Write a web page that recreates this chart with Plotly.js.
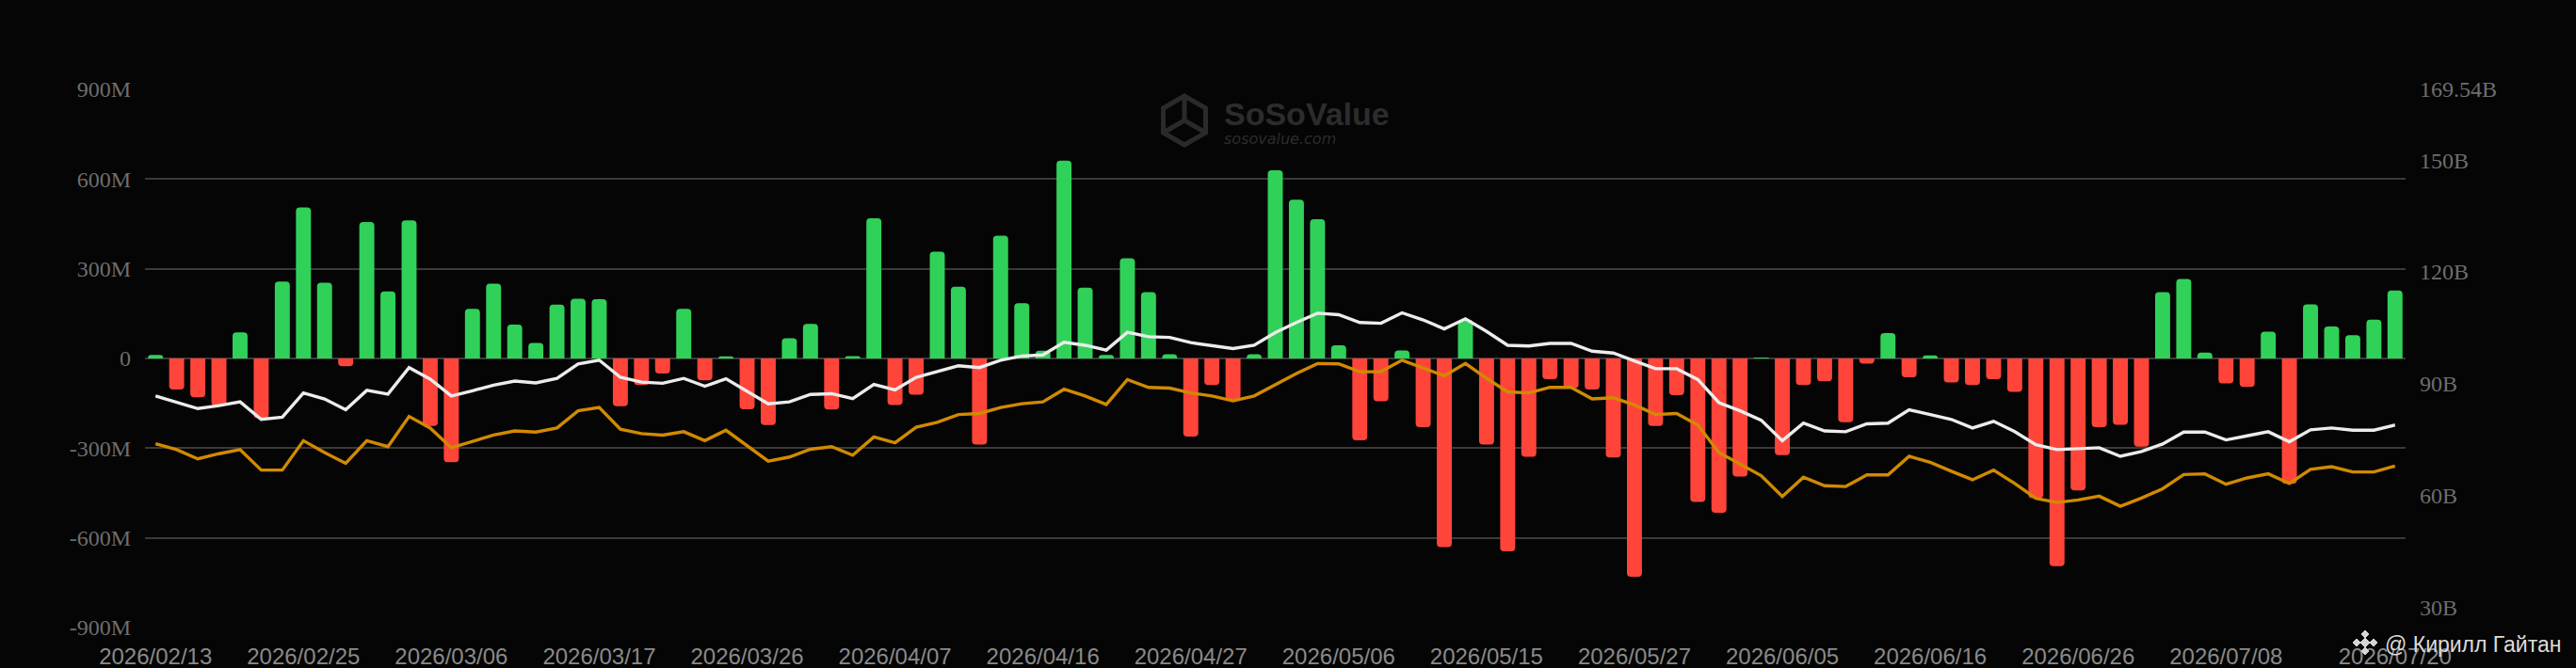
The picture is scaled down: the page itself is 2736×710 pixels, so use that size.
<!DOCTYPE html>
<html>
<head>
<meta charset="utf-8">
<script src="https://cdn.plot.ly/plotly-3.0.1.min.js"></script>
<style>
html,body{margin:0;padding:0;background:#050505;}
#chart{width:2736px;height:710px;}
</style>
</head>
<body>
<div id="chart"></div>
<script>
// Trading dates (categories)
const dates = [
"2026/02/13","2026/02/17","2026/02/18","2026/02/19","2026/02/20","2026/02/23","2026/02/24","2026/02/25","2026/02/26","2026/02/27",
"2026/03/02","2026/03/03","2026/03/04","2026/03/05","2026/03/06","2026/03/09","2026/03/10","2026/03/11","2026/03/12","2026/03/13",
"2026/03/16","2026/03/17","2026/03/18","2026/03/19","2026/03/20","2026/03/23","2026/03/24","2026/03/25","2026/03/26","2026/03/27",
"2026/03/30","2026/03/31","2026/04/01","2026/04/02","2026/04/06","2026/04/07","2026/04/08","2026/04/09","2026/04/10","2026/04/13",
"2026/04/14","2026/04/15","2026/04/16","2026/04/17","2026/04/20","2026/04/21","2026/04/22","2026/04/23","2026/04/24","2026/04/27",
"2026/04/28","2026/04/29","2026/04/30","2026/05/01","2026/05/04","2026/05/05","2026/05/06","2026/05/07","2026/05/08","2026/05/11",
"2026/05/12","2026/05/13","2026/05/14","2026/05/15","2026/05/18","2026/05/19","2026/05/20","2026/05/21","2026/05/22","2026/05/26",
"2026/05/27","2026/05/28","2026/05/29","2026/06/01","2026/06/02","2026/06/03","2026/06/04","2026/06/05","2026/06/08","2026/06/09",
"2026/06/10","2026/06/11","2026/06/12","2026/06/15","2026/06/16","2026/06/17","2026/06/18","2026/06/22","2026/06/23","2026/06/24",
"2026/06/25","2026/06/26","2026/06/29","2026/06/30","2026/07/01","2026/07/02","2026/07/06","2026/07/07","2026/07/08","2026/07/09",
"2026/07/10","2026/07/13","2026/07/14","2026/07/15","2026/07/16","2026/07/17","2026/07/20"
];

// Daily net flow (USD millions)
const netFlow = [
12,-104,-130,-158,87,-200,257,505,253,-26,
456,224,462,-226,-347,166,250,113,52,180,
200,198,-160,-89,-50,166,-73,7,-170,-223,
68,116,-171,8,469,-156,-121,357,240,-288,
411,185,26,662,237,12,335,222,14,-261,
-89,-136,14,629,531,466,44,-274,-143,27,
-230,-631,130,-288,-645,-329,-69,-99,-104,-331,
-730,-226,-123,-480,-516,-395,3,-323,-89,-76,
-213,-17,85,-63,10,-80,-89,-69,-112,-467,
-695,-441,-230,-222,-295,222,266,20,-83,-95,
90,-419,181,107,78,130,227
];

// White line (USD billions, right axis)
const whiteLine = [
86.7,85.1,83.3,84.1,85.1,80.4,81.0,87.5,85.9,83.0,
88.2,87.2,94.3,91.2,86.7,88.1,89.6,90.7,90.2,91.4,
95.3,96.3,91.7,90.4,90.1,91.4,89.3,91.3,88.0,84.6,
85.1,87.1,87.3,86.0,89.8,88.3,91.7,93.2,94.8,94.3,
96.3,97.4,97.7,101.1,100.3,99.0,103.8,102.6,102.4,101.0,
100.3,99.4,100.3,103.7,106.4,108.9,108.5,106.4,106.2,109.0,
107.1,104.7,107.4,104.0,100.3,100.1,100.8,100.8,98.7,98.2,
96.1,94.0,94.0,91.1,84.9,82.7,80.2,74.7,79.4,77.3,
77.1,79.2,79.4,83.0,81.7,80.4,78.1,79.9,77.1,73.6,
72.3,72.6,72.8,70.5,71.8,73.8,77.0,77.0,74.9,76.0,
77.1,74.4,77.6,78.1,77.5,77.5,78.9
];

// Orange line (USD billions, right axis)
const orangeLine = [
73.9,72.3,69.8,71.2,72.3,66.8,66.8,74.7,71.5,68.6,
74.7,73.1,81.2,78.1,72.8,74.4,76.2,77.3,77.0,78.1,
82.7,83.6,77.8,76.6,76.2,77.1,74.7,77.5,73.3,69.2,
70.3,72.4,73.1,70.8,75.7,74.1,78.3,79.6,81.7,82.0,
83.6,84.6,85.1,88.5,86.7,84.4,91.1,89.0,88.8,87.5,
86.7,85.4,86.7,89.8,92.7,95.4,95.3,93.2,93.2,96.3,
94.2,92.1,95.4,91.4,87.8,87.5,89.0,89.0,85.9,86.2,
84.3,81.7,82.0,78.9,71.5,68.4,65.3,59.7,64.9,62.6,
62.4,65.5,65.5,70.5,68.9,66.5,64.2,66.8,63.2,59.2,
58.1,58.8,59.8,57.1,59.3,61.8,65.6,65.8,63.0,64.7,
65.8,63.2,67.0,67.7,66.3,66.3,67.9
];

// Axis ticks
const xTickDates = ["2026/02/13","2026/02/25","2026/03/06","2026/03/17","2026/03/26","2026/04/07","2026/04/16",
"2026/04/27","2026/05/06","2026/05/15","2026/05/27","2026/06/05","2026/06/16","2026/06/26","2026/07/08","2026/07/20"];
const leftTickVals = [-900,-600,-300,0,300,600,900];
const leftTickText = ["-900M","-600M","-300M","0","300M","600M","900M"];
const rightAxisMin = 24.55, rightAxisMax = 168.96;
const rightTickVals = [30,60,90,120,150,168.95];
const rightTickText = ["30B","60B","90B","120B","150B","169.54B"];

const GREEN = "#30D158", RED = "#FF453A";

const traces = [
  {
    type: "bar", x: dates, y: netFlow, yaxis: "y",
    marker: {color: netFlow.map(v => v >= 0 ? GREEN : RED), cornerradius: 4, line: {width: 0}},
    hoverinfo: "x+y", showlegend: false
  },
  {
    type: "scatter", mode: "lines", x: dates, y: whiteLine, yaxis: "y2",
    line: {color: "#ECECEC", width: 3.4}, showlegend: false
  },
  {
    type: "scatter", mode: "lines", x: dates, y: orangeLine, yaxis: "y2",
    line: {color: "#D18A00", width: 3.4}, showlegend: false
  }
];

const hex = "M 0 -26 L 22.5 -13 L 22.5 13 L 0 26 L -22.5 13 L -22.5 -13 Z M 0 0 L 0 26 M 0 0 L -22.5 -13 M 0 0 L 22.5 -13";
const binance = "M 0 -5 L 5 0 L 0 5 L -5 0 Z M 0 -13 L 4 -9 L 0 -5 L -4 -9 Z M 0 5 L 4 9 L 0 13 L -4 9 Z M -9 -4 L -5 0 L -9 4 L -13 0 Z M 9 -4 L 13 0 L 9 4 L 5 0 Z";

const layout = {
  width: 2736, height: 710,
  paper_bgcolor: "#050505", plot_bgcolor: "#050505",
  margin: {l: 154, r: 181, t: 95, b: 43, pad: 0},
  bargap: 0.29,
  showlegend: false,
  xaxis: {
    type: "category", range: [-0.5, dates.length - 0.5],
    tickmode: "array", tickvals: xTickDates, ticktext: xTickDates,
    showgrid: false, zeroline: false, showline: false, ticks: "",
    ticklabelstandoff: 14,
    tickfont: {family: "Liberation Sans, Arial, sans-serif", size: 24, color: "#8a8a8a"},
    fixedrange: true
  },
  yaxis: {
    range: [-900, 900],
    tickmode: "array", tickvals: leftTickVals, ticktext: leftTickText,
    showgrid: true, gridcolor: "#3a3a3a", gridwidth: 2,
    zeroline: false, showline: false, ticks: "",
    ticklabelstandoff: 14,
    tickfont: {family: "Liberation Serif, Times New Roman, serif", size: 24, color: "#6e6e6e"},
    fixedrange: true
  },
  yaxis2: {
    overlaying: "y", side: "right",
    range: [rightAxisMin, rightAxisMax],
    tickmode: "array", tickvals: rightTickVals, ticktext: rightTickText,
    showgrid: false, zeroline: false, showline: false, ticks: "",
    ticklabelstandoff: 14,
    tickfont: {family: "Liberation Serif, Times New Roman, serif", size: 24, color: "#6e6e6e"},
    fixedrange: true
  },
  shapes: [
    {type: "path", xref: "paper", yref: "paper", xsizemode: "pixel", ysizemode: "pixel",
     xanchor: (1258 - 154) / 2401, yanchor: (667 - 128) / 572,
     path: hex, line: {color: "#2a2a2a", width: 5}, layer: "below"},
    {type: "path", xref: "paper", yref: "paper", xsizemode: "pixel", ysizemode: "pixel",
     xanchor: (2512 - 154) / 2401, yanchor: (667 - 683) / 572,
     path: binance, fillcolor: "#d6d6d6", line: {color: "#d6d6d6", width: 1}, layer: "above"}
  ],
  annotations: [
    {text: "<b>SoSoValue</b>", xref: "paper", yref: "paper",
     x: (1298 - 154) / 2401, y: (667 - 121) / 572, xanchor: "left", yanchor: "middle",
     showarrow: false, font: {family: "Liberation Sans, Arial, sans-serif", size: 34, color: "#2c2c2c"}},
    {text: "<i>sosovalue.com</i>", xref: "paper", yref: "paper",
     x: (1298 - 154) / 2401, y: (667 - 147) / 572, xanchor: "left", yanchor: "middle",
     showarrow: false, font: {family: "DejaVu Sans, sans-serif", size: 16, color: "#2c2c2c"}},
    {text: "@ Кирилл Гайтан", xref: "paper", yref: "paper",
     x: (2531 - 154) / 2401, y: (667 - 685) / 572, xanchor: "left", yanchor: "middle",
     showarrow: false, font: {family: "Liberation Sans, Arial, sans-serif", size: 23, color: "#dcdcdc"}}
  ]
};

Plotly.newPlot("chart", traces, layout, {displayModeBar: false, staticPlot: true});
</script>
</body>
</html>
